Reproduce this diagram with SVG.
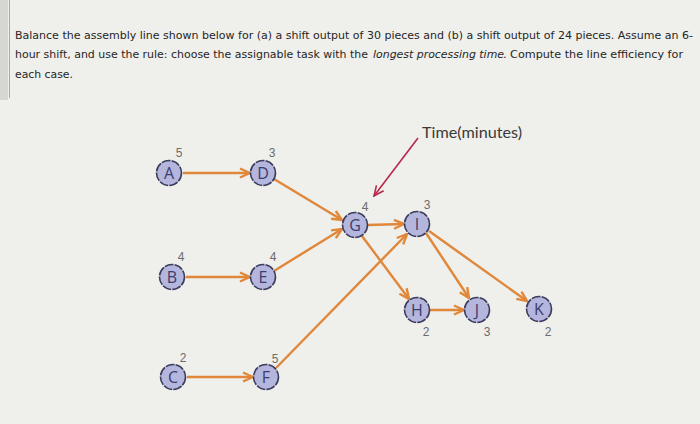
<svg xmlns="http://www.w3.org/2000/svg" width="700" height="424" viewBox="0 0 700 424">
<defs>
<style>
.q{font-family:"DejaVu Sans","Liberation Sans",sans-serif;font-size:11px;fill:#262626}
.e{stroke:#e0873a;stroke-width:2.4;fill:none;marker-end:url(#ah)}
.n circle{fill:#b4b6de;stroke:#3c3c5c;stroke-width:1.6;stroke-dasharray:9 1.2}
.n text.l{font-family:"Open Sans","DejaVu Sans",sans-serif;font-size:16px;fill:#3c3c6c;text-anchor:middle}
.n text.t{font-family:"Liberation Sans",sans-serif;font-size:12px;fill:#6c6c6c;text-anchor:middle}
</style>
<marker id="ah" markerUnits="userSpaceOnUse" viewBox="0 0 12 12" refX="11" refY="6" markerWidth="12" markerHeight="12" orient="auto">
<path d="M1,1.5 L11,6 L1,10.5" fill="none" stroke="#e0873a" stroke-width="2.4" stroke-linejoin="miter"/>
</marker>
<marker id="rh" markerUnits="userSpaceOnUse" viewBox="0 0 12 12" refX="11" refY="6" markerWidth="12" markerHeight="12" orient="auto">
<path d="M1,1.5 L11,6 L1,10.5" fill="none" stroke="#b8284c" stroke-width="1.6"/>
</marker>
</defs>
<rect width="700" height="424" fill="#efefeb"/>
<rect x="0" y="0" width="8" height="100" fill="#d6d6d2"/>
<line x1="9.5" y1="0" x2="9.5" y2="98" stroke="#a8a8a4" stroke-width="1"/>
<g id="question">
<text class="q" x="15" y="39" textLength="678" lengthAdjust="spacingAndGlyphs">Balance the assembly line shown below for (a) a shift output of 30 pieces and (b) a shift output of 24 pieces. Assume an 6-</text>
<text class="q" x="15" y="58" textLength="353" lengthAdjust="spacingAndGlyphs">hour shift, and use the rule: choose the assignable task with the</text>
<text class="q" x="373" y="58" textLength="131" lengthAdjust="spacingAndGlyphs" font-style="italic">longest processing time</text>
<text class="q" x="503" y="58" textLength="180" lengthAdjust="spacingAndGlyphs">. Compute the line efficiency for</text>
<text class="q" x="15" y="78" textLength="58" lengthAdjust="spacingAndGlyphs">each case.</text>
</g>
<g id="connectors">
<line class="e" x1="183" y1="173" x2="250" y2="173"/>
<line class="e" x1="186" y1="277" x2="250" y2="277"/>
<line class="e" x1="187" y1="377" x2="253" y2="377"/>
<line class="e" x1="274" y1="179" x2="342" y2="220"/>
<line class="e" x1="274" y1="271" x2="342" y2="229"/>
<line class="e" x1="276" y1="368" x2="407" y2="234"/>
<line class="e" x1="368" y1="225" x2="404" y2="224"/>
<line class="e" x1="362" y1="236" x2="409" y2="299"/>
<line class="e" x1="426" y1="233" x2="469" y2="298"/>
<line class="e" x1="429" y1="231" x2="527" y2="301"/>
<line class="e" x1="430" y1="310" x2="464" y2="310"/>
<line x1="418" y1="138" x2="374" y2="196" stroke="#b8284c" stroke-width="1.6" marker-end="url(#rh)"/>
</g>
<text x="422" y="138" font-family="Lato,'Open Sans',sans-serif" font-size="16" fill="#3a3a3a" textLength="100" lengthAdjust="spacingAndGlyphs">Time(minutes)</text>
<g id="A" class="n"><circle cx="169" cy="173" r="12.5"/><text class="l" x="169" y="178.5">A</text><text class="t" x="179" y="157">5</text></g>
<g id="D" class="n"><circle cx="263" cy="173" r="12.5"/><text class="l" x="263" y="178.5">D</text><text class="t" x="272" y="157">3</text></g>
<g id="B" class="n"><circle cx="172" cy="277" r="12.5"/><text class="l" x="172" y="282.5">B</text><text class="t" x="181" y="261">4</text></g>
<g id="E" class="n"><circle cx="263" cy="277" r="12.5"/><text class="l" x="263" y="282.5">E</text><text class="t" x="273" y="261">4</text></g>
<g id="C" class="n"><circle cx="173" cy="377" r="12.5"/><text class="l" x="173" y="382.5">C</text><text class="t" x="183" y="362">2</text></g>
<g id="F" class="n"><circle cx="266" cy="377" r="12.5"/><text class="l" x="266" y="382.5">F</text><text class="t" x="275" y="363">5</text></g>
<g id="G" class="n"><circle cx="355" cy="225" r="12.5"/><text class="l" x="355" y="230.5">G</text><text class="t" x="365" y="211">4</text></g>
<g id="I" class="n"><circle cx="417" cy="224" r="12.5"/><text class="l" x="417" y="229.5">I</text><text class="t" x="427" y="209">3</text></g>
<g id="H" class="n"><circle cx="417" cy="310" r="12.5"/><text class="l" x="417" y="315.5">H</text><text class="t" x="426" y="336">2</text></g>
<g id="J" class="n"><circle cx="477" cy="310" r="12.5"/><text class="l" x="477" y="315.5">J</text><text class="t" x="487" y="336">3</text></g>
<g id="K" class="n"><circle cx="539" cy="309" r="12.5"/><text class="l" x="539" y="314.5">K</text><text class="t" x="548" y="336">2</text></g>
</svg>
